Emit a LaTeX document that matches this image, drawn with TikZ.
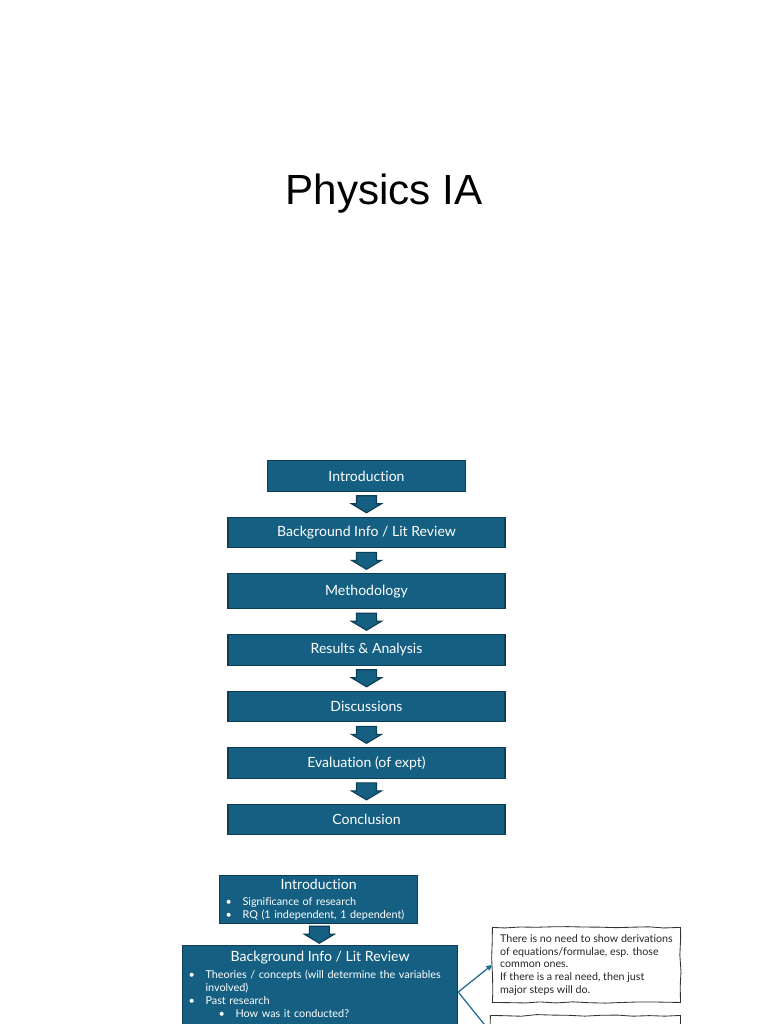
\documentclass[tikz,border=0pt]{standalone}
\usepackage{fontspec}
\setmainfont{Lato}[Ligatures=NoCommon]
\newfontfamily\titlefont{Liberation Sans}
\usetikzlibrary{positioning,decorations.pathmorphing,arrows.meta,calc}
\definecolor{iablue}{HTML}{156082}
\definecolor{iaedge}{HTML}{0C3E56}
\definecolor{iapointer}{HTML}{1F6E94}
\newcommand{\bul}[2]{\hspace*{#1}\makebox[4.25mm][l]{\textbullet}#2}
\begin{document}
\begin{tikzpicture}[x=0.025cm, y=-0.025cm, node distance=6.25mm,
    stage/.style = {draw=iaedge, fill=iablue, line width=0.8pt, text=white, minimum width=69.25mm, minimum height=7.6mm, inner sep=0pt, font=\fontsize{10}{12}\selectfont},
    blockdown/.pic = {\filldraw[draw=iaedge, fill=iablue, line width=0.8pt] (-10,-8.5) -- (10,-8.5) -- (10,-0.5) -- (15,-0.5) -- (0,8.5) -- (-15,-0.5) -- (-10,-0.5) -- cycle;},
    panel/.style = {draw=iaedge, fill=iablue, line width=0.8pt, text=white, align=left, inner xsep=1.5mm, inner ysep=0.8mm, font=\fontsize{7.7}{9.3}\selectfont},
    note/.style = {draw=black!80, fill=white, line width=0.6pt, decorate, decoration={random steps, segment length=4mm, amplitude=0.6pt}, align=left, text=black!85, font=\fontsize{7.6}{9}\selectfont},
    pointer/.style = {draw=iapointer, line width=0.9pt, -{Triangle[length=4pt, width=4pt]}}]
\fill[white] (0,0) rectangle (768,1024);
\useasboundingbox (0,0) rectangle (768,1024);

\node[font=\titlefont\fontsize{30}{36}\selectfont, anchor=base] (title) at (384,205) {Physics IA};

% overview
\node[stage, minimum width=49.5mm] (intro) at (366.5,476) {Introduction};
\node[stage] (bg) [below=of intro] {Background Info / Lit Review};
\node[stage, minimum height=8.7mm] (method) [below=of bg] {Methodology};
\node[stage] (results) [below=of method] {Results \& Analysis};
\node[stage] (disc) [below=of results] {Discussions};
\node[stage] (eval) [below=of disc] {Evaluation (of expt)};
\node[stage] (concl) [below=of eval] {Conclusion};
\path (intro.south) -- pic[midway] {blockdown} (bg.north);
\path (bg.south) -- pic[midway] {blockdown} (method.north);
\path (method.south) -- pic[midway] {blockdown} (results.north);
\path (results.south) -- pic[midway] {blockdown} (disc.north);
\path (disc.south) -- pic[midway] {blockdown} (eval.north);
\path (eval.south) -- pic[midway] {blockdown} (concl.north);

% detailed
\node[panel, anchor=north west, minimum width=49.5mm, minimum height=12mm, text width=46.5mm] (intro2) at (219,875) {%
  \makebox[\linewidth]{\fontsize{10}{12}\selectfont Introduction}\\[2.5pt]
  \bul{0mm}{Significance of research}\\
  \bul{0mm}{RQ (1 independent, 1 dependent)}};
\node[panel, anchor=north west, minimum width=68.75mm, text width=65.75mm, text depth=15mm, inner ysep=1.5mm] (bg2) at (182,945) {%
  \makebox[\linewidth]{\fontsize{10}{12}\selectfont Background Info / Lit Review}\\[2.5pt]
  \bul{0mm}{Theories / concepts (will determine the variables}\\
  \hspace*{4.25mm}involved)\\
  \bul{0mm}{Past research}\\
  \bul{7.5mm}{How was it conducted?}};
\path (intro2.south) -- pic[midway] {blockdown} (bg2.north);

\node[note, anchor=north west, minimum width=47mm, minimum height=18.75mm] (note1) at (492,927) {There is no need to show derivations\\ of equations/formulae, esp. those\\ common ones.\\ If there is a real need, then just\\ major steps will do.};
\node[note, anchor=north west, minimum width=47.5mm, minimum height=8mm] (note2) at (490,1015) {};
\coordinate (fork) at ($(bg2.north east)+(0,47)$);
\draw[pointer] (fork) -- (note1.west);
\draw[pointer] (fork) -- (note2.west);
\end{tikzpicture}
\end{document}
